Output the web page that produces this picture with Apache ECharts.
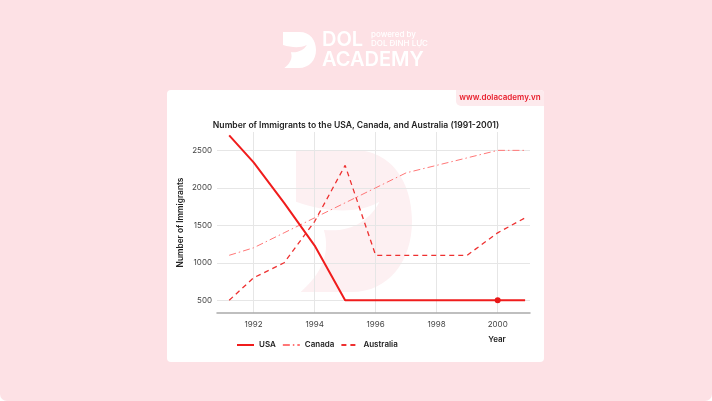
<!DOCTYPE html>
<html>
<head>
<meta charset="utf-8">
<script src="https://cdn.jsdelivr.net/npm/echarts@6/dist/echarts.min.js"></script>
<style>
  html, body { margin: 0; padding: 0; background: #fff; }
  #chart { width: 712px; height: 401px; }
</style>
</head>
<body>
<div id="chart"></div>
<script>
// years as placed on the picture (first and last points sit a little inside 1991 / 2001)
const years = [1991.2, 1992, 1993, 1994, 1995, 1996, 1997, 1998, 1999, 2000, 2000.9];
const usa = [2700, 2340, 1800, 1230, 500, 500, 500, 500, 500, 500, 500];
const canada = [1100, 1200, 1400, 1600, 1800, 2000, 2200, 2300, 2400, 2500, 2500];
const australia = [500, 800, 1000, 1550, 2300, 1100, 1100, 1100, 1100, 1400, 1600];
const xTicks = [1992, 1994, 1996, 1998, 2000];
const yTicks = [500, 1000, 1500, 2000, 2500];

const pair = (vals) => years.map((y, i) => [y, vals[i]]);

const FONT = 'Inter, "Noto Sans", sans-serif';

// DOL logo as a small svg (drawn as an image element)
function logoSvg(fill) {
  const d = 'M0,0 L50,0 C82,0 100,25 100,55 C100,86 80,110 48,110 L4,110 C22,96 30,80 24,62 C48,64 64,54 72,40 C52,50 26,48 0,40 Z';
  const svg = '<svg xmlns="http://www.w3.org/2000/svg" viewBox="0 0 100 110" preserveAspectRatio="none">' +
    '<path d="' + d + '" fill="' + fill + '"/></svg>';
  return 'data:image/svg+xml;charset=utf-8,' + encodeURIComponent(svg);
}

const chart = echarts.init(document.getElementById('chart'));

const option = {
  backgroundColor: '#ffffff',
  animation: false,
  textStyle: { fontFamily: FONT },
  graphic: [
    // page background
    { type: 'rect', z: -10, shape: { x: 0, y: 0, width: 712, height: 401, r: [0, 0, 7, 7] }, style: { fill: '#fde1e5' } },
    // header logo
    { type: 'image', z: -9, style: { image: logoSvg('#ffffff'), x: 283, y: 32, width: 33, height: 36 } },
    { type: 'text', z: -9, left: 322, top: 30, style: { text: 'DOL', fill: '#fff', font: '600 20px ' + FONT } },
    { type: 'text', z: -9, left: 322, top: 50, style: { text: 'ACADEMY', fill: '#fff', font: '600 20px ' + FONT } },
    { type: 'text', z: -9, left: 371, top: 31, style: { text: 'powered by', fill: '#fff', font: '500 8px ' + FONT } },
    { type: 'text', z: -9, left: 371, top: 40, style: { text: 'DOL ĐINH LỰC', fill: '#fff', font: '500 8px ' + FONT } },
    // white card
    { type: 'rect', z: -8, shape: { x: 167, y: 90, width: 377, height: 272, r: 4 }, style: { fill: '#ffffff' } },
    // site pill
    { type: 'rect', z: -7, shape: { x: 456, y: 90, width: 88, height: 16, r: [0, 4, 0, 5] }, style: { fill: '#fdeaed' } },
    { type: 'text', z: -6, x: 500, y: 98, style: { text: 'www.dolacademy.vn', fill: '#e8212e', font: '600 8px ' + FONT, align: 'center', verticalAlign: 'middle' } },
    // faint watermark in plot
    { type: 'image', z: -5, style: { image: logoSvg('#fdf0f2'), x: 296, y: 150, width: 116, height: 142 } },
    // x axis title
    { type: 'text', z: 5, x: 497, y: 340, style: { text: 'Year', fill: '#222', font: '600 8px ' + FONT, align: 'center', verticalAlign: 'middle' } }
  ],
  title: {
    text: 'Number of Immigrants to the USA, Canada, and Australia (1991-2001)',
    left: 'center',
    top: 116,
    textStyle: { fontFamily: FONT, fontSize: 8.6, fontWeight: 600, color: '#222' }
  },
  legend: {
    left: 231,
    top: 336,
    itemWidth: 17,
    itemHeight: 9,
    itemGap: 6,
    itemStyle: { opacity: 0 },
    textStyle: { fontFamily: FONT, fontSize: 8, fontWeight: 600, color: '#222' },
    data: ['USA', 'Canada', 'Australia']
  },
  grid: { left: 217, right: 182, top: 132, bottom: 88 },
  xAxis: {
    type: 'value',
    min: 1990.8,
    max: 2001.06,
    axisLine: { show: true, lineStyle: { color: '#aaa', width: 1.5 } },
    axisTick: { show: false, customValues: xTicks },
    axisLabel: { customValues: xTicks, formatter: (v) => String(v), color: '#444', fontSize: 8, margin: 8, fontFamily: FONT },
    splitLine: { show: true, lineStyle: { color: '#e6e6e6', width: 1 } }
  },
  yAxis: {
    type: 'value',
    min: 330,
    max: 2745,
    name: 'Number of Immigrants',
    nameLocation: 'middle',
    nameGap: 32,
    nameMoveOverlap: false,
    nameTextStyle: { fontFamily: FONT, fontSize: 8.3, fontWeight: 600, color: '#222' },
    axisLine: { show: false },
    axisTick: { show: false, customValues: yTicks },
    axisLabel: { customValues: yTicks, formatter: (v) => String(v), color: '#444', fontSize: 8, margin: 5, fontFamily: FONT },
    splitLine: { show: true, lineStyle: { color: '#e6e6e6', width: 1 } }
  },
  series: [
    {
      name: 'USA',
      type: 'line',
      symbol: 'none',
      data: pair(usa),
      lineStyle: { color: '#f01c1c', width: 2 },
      itemStyle: { color: '#f01c1c' },
      markPoint: {
        symbol: 'circle',
        symbolSize: 6,
        label: { show: false },
        itemStyle: { color: '#e81818' },
        data: [{ coord: [2000, 500] }]
      },
      z: 4
    },
    {
      name: 'Canada',
      type: 'line',
      symbol: 'none',
      data: pair(canada),
      lineStyle: { color: '#f77', width: 1, type: [7, 3, 1.5, 3] },
      itemStyle: { color: '#f77' },
      z: 3
    },
    {
      name: 'Australia',
      type: 'line',
      symbol: 'none',
      data: pair(australia),
      lineStyle: { color: '#ee3030', width: 1.3, type: [5, 4] },
      itemStyle: { color: '#ee3030' },
      z: 3
    }
  ]
};

chart.setOption(option);
</script>
</body>
</html>
